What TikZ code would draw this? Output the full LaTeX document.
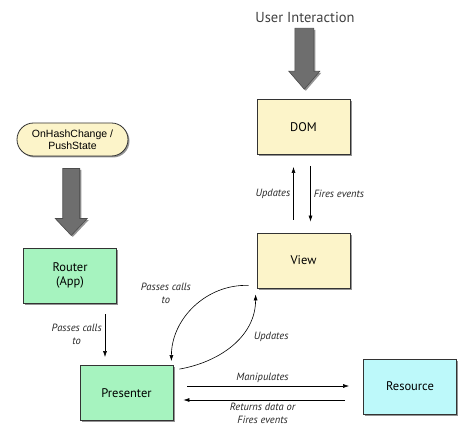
\documentclass[tikz,border=0pt]{standalone}
\usepackage{fontspec}
\setmainfont{PT Sans}
\newfontfamily\pillfont{Liberation Sans}
\usetikzlibrary{arrows.meta,shadows}
\definecolor{viewyellow}{HTML}{FCF4C9}
\definecolor{appgreen}{HTML}{A6F3BF}
\definecolor{rescyan}{HTML}{BDF9FA}
\definecolor{bigarrowgray}{HTML}{6E6E6E}

\begin{document}
\begin{tikzpicture}[x=1pt,y=1pt]
\tikzset{shade box/.style={drop shadow={shadow xshift=1.5pt,shadow yshift=-1.5pt,fill=black!70,opacity=.6}}}
\tikzset{box/.style={shade box,draw=black!80,line width=0.8pt,minimum width=93pt,minimum height=55pt,align=center,font=\fontsize{12.5}{14.5}\selectfont}}
\tikzset{flow/.style={line width=0.6pt,-{Latex[length=6pt,width=4pt]}}}
\tikzset{lbl/.style={font=\fontsize{10.5}{12.5}\selectfont\itshape,align=center,text=black!85,inner sep=3pt}}
\tikzset{bigarrow/.style={shade box,draw=black!70,line width=0.6pt,fill=bigarrowgray,line join=miter}}

\useasboundingbox (0,0) rectangle (474,-441);

% sources
\node[font=\fontsize{14.5}{16}\selectfont,text=black!75] (user) at (305,-17) {User Interaction};
\node[shade box,draw=black!80,line width=0.8pt,fill=viewyellow,rounded corners=16.5pt,minimum width=111pt,minimum height=33pt,align=center,font=\pillfont\fontsize{10.5}{12}\selectfont] (hash) at (72.5,-139.5) {OnHashChange /\\PushState};

% boxes
\node[box,fill=viewyellow] (dom) at (303.5,-127) {DOM};
\node[box,fill=viewyellow] (view) at (303.5,-260.5) {View};
\node[box,fill=appgreen] (router) at (70,-275.5) {Router\\(App)};
\node[box,fill=appgreen] (presenter) at (126.5,-393) {Presenter};
\node[box,fill=rescyan] (resource) at (410,-386.5) {Resource};

% big arrows
\path (user.south) -- coordinate[pos=.45] (userarrow) (dom.north);
\path (hash.south) -- coordinate[pos=.5] (hasharrow) (router.north);
\draw[bigarrow] (userarrow) ++(-9.5,30.5) -- ++(19,0) -- ++(0,-43) -- ++(6,0) -- ++(-15.5,-18) -- ++(-15.5,18) -- ++(6,0) -- cycle;
\draw[bigarrow] (hasharrow) ++(-8.5,33.5) -- ++(17,0) -- ++(0,-50) -- ++(7.5,0) -- ++(-16,-17) -- ++(-16,17) -- ++(7.5,0) -- cycle;

% connectors
\draw[flow,shorten <=13pt,shorten >=12pt] ([xshift=-10pt]view.north) -- node[lbl,left] {Updates} ([xshift=-10pt]dom.south);
\draw[flow,shorten <=11pt,shorten >=11pt] ([xshift=7pt]dom.south) -- node[lbl,right] {Fires events} ([xshift=7pt]view.north);
\draw[flow,shorten <=11pt,shorten >=8pt] ([xshift=35pt]router.south) -- node[lbl,left] {Passes calls\\to} ([xshift=35pt]router.south |- presenter.north);
\draw[flow] ([xshift=-8pt,yshift=3pt]view.south west) to[out=178,in=90] node[lbl,pos=.5,above left] {Passes calls\\to} ([xshift=-2pt,yshift=4pt]presenter.north east);
\draw[flow] ([xshift=6pt,yshift=-4pt]presenter.north east) to[out=10,in=-90] node[lbl,pos=.6,right=10pt] {Updates} ([xshift=-1pt,yshift=-6pt]view.south west);
\draw[flow,shorten <=14pt,shorten >=14pt] ([yshift=7pt]presenter.east) -- node[lbl,above,pos=.47] {Manipulates} ([yshift=7pt]presenter.east -| resource.west);
\draw[flow,shorten <=18pt,shorten >=10pt] ([yshift=-7pt]presenter.east -| resource.west) -- node[lbl,below,pos=.53] {Returns data or\\Fires events} ([yshift=-7pt]presenter.east);
\end{tikzpicture}
\end{document}
